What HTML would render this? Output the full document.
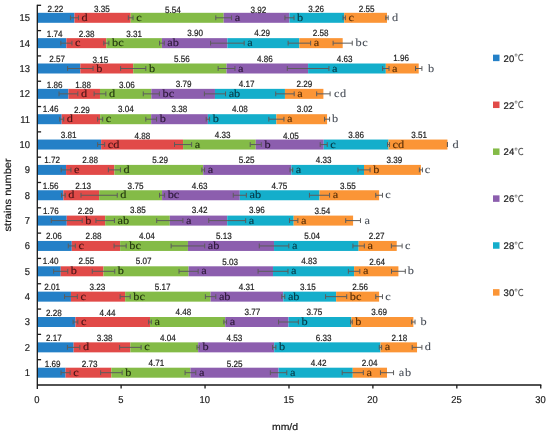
<!DOCTYPE html>
<html lang="en">
<head>
<meta charset="utf-8">
<title>strains growth rate chart</title>
<style>html,body{margin:0;padding:0;background:#fff}svg{display:block;text-rendering:geometricPrecision}</style>
</head>
<body>
<svg width="550" height="436" viewBox="0 0 550 436">
<rect width="550" height="436" fill="#fff"/>
<g>
<rect x="37.20" y="367.70" width="28.37" height="10.00" fill="#2480c7"/>
<rect x="65.57" y="367.70" width="45.82" height="10.00" fill="#e14a48"/>
<rect x="111.39" y="367.70" width="79.06" height="10.00" fill="#84bb47"/>
<rect x="190.45" y="367.70" width="88.12" height="10.00" fill="#8c5eae"/>
<rect x="278.57" y="367.70" width="74.19" height="10.00" fill="#14aecb"/>
<rect x="352.76" y="367.70" width="34.24" height="10.00" fill="#fb9536"/>
<rect x="37.20" y="342.35" width="36.42" height="10.00" fill="#2480c7"/>
<rect x="73.62" y="342.35" width="56.73" height="10.00" fill="#e14a48"/>
<rect x="130.36" y="342.35" width="67.81" height="10.00" fill="#84bb47"/>
<rect x="198.17" y="342.35" width="76.04" height="10.00" fill="#8c5eae"/>
<rect x="274.20" y="342.35" width="106.25" height="10.00" fill="#14aecb"/>
<rect x="380.45" y="342.35" width="36.59" height="10.00" fill="#fb9536"/>
<rect x="37.20" y="317.00" width="38.27" height="10.00" fill="#2480c7"/>
<rect x="75.47" y="317.00" width="74.53" height="10.00" fill="#e14a48"/>
<rect x="150.00" y="317.00" width="75.20" height="10.00" fill="#84bb47"/>
<rect x="225.19" y="317.00" width="63.28" height="10.00" fill="#8c5eae"/>
<rect x="288.47" y="317.00" width="62.94" height="10.00" fill="#14aecb"/>
<rect x="351.42" y="317.00" width="61.94" height="10.00" fill="#fb9536"/>
<rect x="37.20" y="291.65" width="33.74" height="10.00" fill="#2480c7"/>
<rect x="70.94" y="291.65" width="54.22" height="10.00" fill="#e14a48"/>
<rect x="125.15" y="291.65" width="85.44" height="10.00" fill="#84bb47"/>
<rect x="210.59" y="291.65" width="72.68" height="10.00" fill="#8c5eae"/>
<rect x="283.27" y="291.65" width="52.87" height="10.00" fill="#14aecb"/>
<rect x="336.14" y="291.65" width="42.97" height="10.00" fill="#fb9536"/>
<rect x="37.20" y="266.30" width="23.50" height="10.00" fill="#2480c7"/>
<rect x="60.70" y="266.30" width="42.80" height="10.00" fill="#e14a48"/>
<rect x="103.50" y="266.30" width="85.10" height="10.00" fill="#84bb47"/>
<rect x="188.60" y="266.30" width="84.43" height="10.00" fill="#8c5eae"/>
<rect x="273.03" y="266.30" width="81.07" height="10.00" fill="#14aecb"/>
<rect x="354.10" y="266.30" width="44.31" height="10.00" fill="#fb9536"/>
<rect x="37.20" y="240.95" width="34.58" height="10.00" fill="#2480c7"/>
<rect x="71.78" y="240.95" width="48.34" height="10.00" fill="#e14a48"/>
<rect x="120.12" y="240.95" width="67.81" height="10.00" fill="#84bb47"/>
<rect x="187.93" y="240.95" width="86.11" height="10.00" fill="#8c5eae"/>
<rect x="274.04" y="240.95" width="84.60" height="10.00" fill="#14aecb"/>
<rect x="358.63" y="240.95" width="38.10" height="10.00" fill="#fb9536"/>
<rect x="37.20" y="215.60" width="29.54" height="10.00" fill="#2480c7"/>
<rect x="66.74" y="215.60" width="38.44" height="10.00" fill="#e14a48"/>
<rect x="105.18" y="215.60" width="64.62" height="10.00" fill="#84bb47"/>
<rect x="169.80" y="215.60" width="57.40" height="10.00" fill="#8c5eae"/>
<rect x="227.21" y="215.60" width="66.47" height="10.00" fill="#14aecb"/>
<rect x="293.67" y="215.60" width="59.42" height="10.00" fill="#fb9536"/>
<rect x="37.20" y="190.25" width="26.18" height="10.00" fill="#2480c7"/>
<rect x="63.38" y="190.25" width="35.75" height="10.00" fill="#e14a48"/>
<rect x="99.14" y="190.25" width="62.94" height="10.00" fill="#84bb47"/>
<rect x="162.08" y="190.25" width="77.71" height="10.00" fill="#8c5eae"/>
<rect x="239.79" y="190.25" width="79.73" height="10.00" fill="#14aecb"/>
<rect x="319.52" y="190.25" width="59.59" height="10.00" fill="#fb9536"/>
<rect x="37.20" y="164.90" width="28.87" height="10.00" fill="#2480c7"/>
<rect x="66.07" y="164.90" width="48.34" height="10.00" fill="#e14a48"/>
<rect x="114.41" y="164.90" width="88.79" height="10.00" fill="#84bb47"/>
<rect x="203.20" y="164.90" width="88.12" height="10.00" fill="#8c5eae"/>
<rect x="291.32" y="164.90" width="72.68" height="10.00" fill="#14aecb"/>
<rect x="364.00" y="164.90" width="56.90" height="10.00" fill="#fb9536"/>
<rect x="37.20" y="139.55" width="63.95" height="10.00" fill="#2480c7"/>
<rect x="101.15" y="139.55" width="81.91" height="10.00" fill="#e14a48"/>
<rect x="183.06" y="139.55" width="72.68" height="10.00" fill="#84bb47"/>
<rect x="255.74" y="139.55" width="67.98" height="10.00" fill="#8c5eae"/>
<rect x="323.72" y="139.55" width="64.79" height="10.00" fill="#14aecb"/>
<rect x="388.51" y="139.55" width="58.92" height="10.00" fill="#fb9536"/>
<rect x="37.20" y="114.20" width="24.51" height="10.00" fill="#2480c7"/>
<rect x="61.71" y="114.20" width="38.44" height="10.00" fill="#e14a48"/>
<rect x="100.14" y="114.20" width="51.03" height="10.00" fill="#84bb47"/>
<rect x="151.17" y="114.20" width="56.73" height="10.00" fill="#8c5eae"/>
<rect x="207.90" y="114.20" width="68.48" height="10.00" fill="#14aecb"/>
<rect x="276.39" y="114.20" width="50.69" height="10.00" fill="#fb9536"/>
<rect x="37.20" y="88.85" width="31.22" height="10.00" fill="#2480c7"/>
<rect x="68.42" y="88.85" width="31.56" height="10.00" fill="#e14a48"/>
<rect x="99.98" y="88.85" width="51.36" height="10.00" fill="#84bb47"/>
<rect x="151.34" y="88.85" width="63.62" height="10.00" fill="#8c5eae"/>
<rect x="214.95" y="88.85" width="69.99" height="10.00" fill="#14aecb"/>
<rect x="284.95" y="88.85" width="38.44" height="10.00" fill="#fb9536"/>
<rect x="37.20" y="63.50" width="43.14" height="10.00" fill="#2480c7"/>
<rect x="80.34" y="63.50" width="52.87" height="10.00" fill="#e14a48"/>
<rect x="133.21" y="63.50" width="93.32" height="10.00" fill="#84bb47"/>
<rect x="226.53" y="63.50" width="81.58" height="10.00" fill="#8c5eae"/>
<rect x="308.11" y="63.50" width="77.71" height="10.00" fill="#14aecb"/>
<rect x="385.82" y="63.50" width="32.90" height="10.00" fill="#fb9536"/>
<rect x="37.20" y="38.15" width="29.21" height="10.00" fill="#2480c7"/>
<rect x="66.41" y="38.15" width="39.95" height="10.00" fill="#e14a48"/>
<rect x="106.35" y="38.15" width="55.56" height="10.00" fill="#84bb47"/>
<rect x="161.91" y="38.15" width="65.46" height="10.00" fill="#8c5eae"/>
<rect x="227.37" y="38.15" width="72.01" height="10.00" fill="#14aecb"/>
<rect x="299.38" y="38.15" width="43.31" height="10.00" fill="#fb9536"/>
<rect x="37.20" y="12.80" width="37.26" height="10.00" fill="#2480c7"/>
<rect x="74.46" y="12.80" width="56.23" height="10.00" fill="#e14a48"/>
<rect x="130.69" y="12.80" width="92.99" height="10.00" fill="#84bb47"/>
<rect x="223.68" y="12.80" width="65.80" height="10.00" fill="#8c5eae"/>
<rect x="289.48" y="12.80" width="54.72" height="10.00" fill="#14aecb"/>
<rect x="344.20" y="12.80" width="42.80" height="10.00" fill="#fb9536"/>
</g>
<g stroke="#5c5c5c" stroke-width="1" fill="none">
<path d="M61.03 372.70H70.10M61.03 370.30v4.8M70.10 370.30v4.8"/>
<path d="M100.65 372.70H122.13M100.65 370.30v4.8M122.13 370.30v4.8"/>
<path d="M185.08 372.70H195.82M185.08 370.30v4.8M195.82 370.30v4.8"/>
<path d="M270.34 372.70H286.79M270.34 370.30v4.8M286.79 370.30v4.8"/>
<path d="M342.18 372.70H363.33M342.18 370.30v4.8M363.33 370.30v4.8"/>
<path d="M380.45 372.70H393.55M380.45 370.30v4.8M393.55 370.30v4.8"/>
<path d="M67.41 347.35H79.83M67.41 344.95v4.8M79.83 344.95v4.8"/>
<path d="M119.61 347.35H141.10M119.61 344.95v4.8M141.10 344.95v4.8"/>
<path d="M196.99 347.35H199.34M196.99 344.95v4.8M199.34 344.95v4.8"/>
<path d="M272.53 347.35H275.88M272.53 344.95v4.8M275.88 344.95v4.8"/>
<path d="M379.28 347.35H381.63M379.28 344.95v4.8M381.63 344.95v4.8"/>
<path d="M412.18 347.35H421.91M412.18 344.95v4.8M421.91 344.95v4.8"/>
<path d="M73.12 322.00H77.82M73.12 319.60v4.8M77.82 319.60v4.8"/>
<path d="M148.65 322.00H151.34M148.65 319.60v4.8M151.34 319.60v4.8"/>
<path d="M223.85 322.00H226.53M223.85 319.60v4.8M226.53 319.60v4.8"/>
<path d="M278.57 322.00H298.37M278.57 319.60v4.8M298.37 319.60v4.8"/>
<path d="M350.58 322.00H352.25M350.58 319.60v4.8M352.25 319.60v4.8"/>
<path d="M411.67 322.00H415.03M411.67 319.60v4.8M415.03 319.60v4.8"/>
<path d="M64.56 296.65H77.32M64.56 294.25v4.8M77.32 294.25v4.8"/>
<path d="M120.12 296.65H130.19M120.12 294.25v4.8M130.19 294.25v4.8"/>
<path d="M205.39 296.65H215.79M205.39 294.25v4.8M215.79 294.25v4.8"/>
<path d="M281.76 296.65H284.78M281.76 294.25v4.8M284.78 294.25v4.8"/>
<path d="M325.57 296.65H346.72M325.57 294.25v4.8M346.72 294.25v4.8"/>
<path d="M375.75 296.65H382.47M375.75 294.25v4.8M382.47 294.25v4.8"/>
<path d="M53.65 271.30H67.75M53.65 268.90v4.8M67.75 268.90v4.8"/>
<path d="M92.25 271.30H114.75M92.25 268.90v4.8M114.75 268.90v4.8"/>
<path d="M179.03 271.30H198.17M179.03 268.90v4.8M198.17 268.90v4.8"/>
<path d="M258.09 271.30H287.97M258.09 268.90v4.8M287.97 268.90v4.8"/>
<path d="M348.39 271.30H359.81M348.39 268.90v4.8M359.81 268.90v4.8"/>
<path d="M391.53 271.30H405.30M391.53 268.90v4.8M405.30 268.90v4.8"/>
<path d="M68.25 245.95H75.30M68.25 243.55v4.8M75.30 243.55v4.8"/>
<path d="M114.08 245.95H126.16M114.08 243.55v4.8M126.16 243.55v4.8"/>
<path d="M171.14 245.95H204.71M171.14 243.55v4.8M204.71 243.55v4.8"/>
<path d="M259.27 245.95H288.81M259.27 243.55v4.8M288.81 243.55v4.8"/>
<path d="M352.93 245.95H364.34M352.93 243.55v4.8M364.34 243.55v4.8"/>
<path d="M391.36 245.95H402.11M391.36 243.55v4.8M402.11 243.55v4.8"/>
<path d="M51.30 220.60H82.18M51.30 218.20v4.8M82.18 218.20v4.8"/>
<path d="M95.95 220.60H114.41M95.95 218.20v4.8M114.41 218.20v4.8"/>
<path d="M156.71 220.60H182.89M156.71 218.20v4.8M182.89 218.20v4.8"/>
<path d="M208.74 220.60H245.67M208.74 218.20v4.8M245.67 218.20v4.8"/>
<path d="M289.48 220.60H297.87M289.48 218.20v4.8M297.87 218.20v4.8"/>
<path d="M345.71 220.60H360.48M345.71 218.20v4.8M360.48 218.20v4.8"/>
<path d="M61.54 195.25H65.23M61.54 192.85v4.8M65.23 192.85v4.8"/>
<path d="M81.01 195.25H117.26M81.01 192.85v4.8M117.26 192.85v4.8"/>
<path d="M159.56 195.25H164.60M159.56 192.85v4.8M164.60 192.85v4.8"/>
<path d="M233.25 195.25H246.34M233.25 192.85v4.8M246.34 192.85v4.8"/>
<path d="M309.45 195.25H329.59M309.45 192.85v4.8M329.59 192.85v4.8"/>
<path d="M375.75 195.25H382.47M375.75 192.85v4.8M382.47 192.85v4.8"/>
<path d="M61.20 169.90H70.94M61.20 167.50v4.8M70.94 167.50v4.8"/>
<path d="M108.37 169.90H120.45M108.37 167.50v4.8M120.45 167.50v4.8"/>
<path d="M201.86 169.90H204.55M201.86 167.50v4.8M204.55 167.50v4.8"/>
<path d="M289.98 169.90H292.67M289.98 167.50v4.8M292.67 167.50v4.8"/>
<path d="M357.96 169.90H370.05M357.96 167.50v4.8M370.05 167.50v4.8"/>
<path d="M419.39 169.90H422.42M419.39 167.50v4.8M422.42 167.50v4.8"/>
<path d="M97.63 144.55H104.68M97.63 142.15v4.8M104.68 142.15v4.8"/>
<path d="M174.50 144.55H191.62M174.50 142.15v4.8M191.62 142.15v4.8"/>
<path d="M250.20 144.55H261.28M250.20 142.15v4.8M261.28 142.15v4.8"/>
<path d="M320.20 144.55H327.24M320.20 142.15v4.8M327.24 142.15v4.8"/>
<path d="M387.50 144.55H389.52M387.50 142.15v4.8M389.52 142.15v4.8"/>
<path d="M447.43 144.55H447.43M447.43 142.15v4.8M447.43 142.15v4.8"/>
<path d="M59.69 119.20H63.72M59.69 116.80v4.8M63.72 116.80v4.8"/>
<path d="M97.63 119.20H102.66M97.63 116.80v4.8M102.66 116.80v4.8"/>
<path d="M145.80 119.20H156.54M145.80 116.80v4.8M156.54 116.80v4.8"/>
<path d="M206.22 119.20H209.58M206.22 116.80v4.8M209.58 116.80v4.8"/>
<path d="M268.83 119.20H283.94M268.83 116.80v4.8M283.94 116.80v4.8"/>
<path d="M324.56 119.20H329.59M324.56 116.80v4.8M329.59 116.80v4.8"/>
<path d="M59.02 93.85H77.82M59.02 91.45v4.8M77.82 91.45v4.8"/>
<path d="M94.10 93.85H105.85M94.10 91.45v4.8M105.85 91.45v4.8"/>
<path d="M143.28 93.85H159.39M143.28 91.45v4.8M159.39 91.45v4.8"/>
<path d="M204.38 93.85H225.53M204.38 91.45v4.8M225.53 91.45v4.8"/>
<path d="M275.71 93.85H294.18M275.71 91.45v4.8M294.18 91.45v4.8"/>
<path d="M316.67 93.85H330.10M316.67 91.45v4.8M330.10 91.45v4.8"/>
<path d="M67.58 68.50H93.09M67.58 66.10v4.8M93.09 66.10v4.8"/>
<path d="M120.62 68.50H145.80M120.62 66.10v4.8M145.80 66.10v4.8"/>
<path d="M218.14 68.50H234.93M218.14 66.10v4.8M234.93 66.10v4.8"/>
<path d="M287.30 68.50H328.92M287.30 66.10v4.8M328.92 66.10v4.8"/>
<path d="M382.64 68.50H389.01M382.64 66.10v4.8M389.01 66.10v4.8"/>
<path d="M415.53 68.50H421.91M415.53 66.10v4.8M421.91 66.10v4.8"/>
<path d="M60.87 43.15H71.94M60.87 40.75v4.8M71.94 40.75v4.8"/>
<path d="M103.84 43.15H108.87M103.84 40.75v4.8M108.87 40.75v4.8"/>
<path d="M159.56 43.15H164.26M159.56 40.75v4.8M164.26 40.75v4.8"/>
<path d="M210.59 43.15H244.16M210.59 40.75v4.8M244.16 40.75v4.8"/>
<path d="M288.14 43.15H310.63M288.14 40.75v4.8M310.63 40.75v4.8"/>
<path d="M333.12 43.15H352.25M333.12 40.75v4.8M352.25 40.75v4.8"/>
<path d="M70.43 17.80H78.49M70.43 15.40v4.8M78.49 15.40v4.8"/>
<path d="M128.34 17.80H133.04M128.34 15.40v4.8M133.04 15.40v4.8"/>
<path d="M215.79 17.80H231.57M215.79 15.40v4.8M231.57 15.40v4.8"/>
<path d="M284.95 17.80H294.01M284.95 15.40v4.8M294.01 15.40v4.8"/>
<path d="M343.02 17.80H345.37M343.02 15.40v4.8M345.37 15.40v4.8"/>
<path d="M385.82 17.80H388.17M385.82 15.40v4.8M388.17 15.40v4.8"/>
</g>
<g font-family="'Liberation Serif', serif" font-size="11" stroke-width="0.14">
<text transform="translate(73.20 375.70) scale(1.12 1)" fill="#4a1416" stroke="#4a1416">c</text>
<text transform="translate(125.23 375.70) scale(1.12 1)" fill="#24380f" stroke="#24380f">b</text>
<text transform="translate(198.92 375.70) scale(1.12 1)" fill="#2c1838" stroke="#2c1838">a</text>
<text transform="translate(289.89 375.70) scale(1.12 1)" fill="#063a47" stroke="#063a47">a</text>
<text transform="translate(366.43 375.70) scale(1.12 1)" fill="#5a3008" stroke="#5a3008">a</text>
<text transform="translate(398.80 375.70) scale(1.12 1)" fill="#454b55" stroke="#454b55" stroke-width="0.08" letter-spacing="0.6" font-size="11">ab</text>
<text transform="translate(82.93 350.35) scale(1.12 1)" fill="#4a1416" stroke="#4a1416">d</text>
<text transform="translate(144.20 350.35) scale(1.12 1)" fill="#24380f" stroke="#24380f">c</text>
<text transform="translate(202.44 350.35) scale(1.12 1)" fill="#2c1838" stroke="#2c1838">b</text>
<text transform="translate(278.98 350.35) scale(1.12 1)" fill="#063a47" stroke="#063a47">b</text>
<text transform="translate(384.73 350.35) scale(1.12 1)" fill="#5a3008" stroke="#5a3008">a</text>
<text transform="translate(424.70 350.35) scale(1.12 1)" fill="#454b55" stroke="#454b55" stroke-width="0.08" letter-spacing="0.6" font-size="11">d</text>
<text transform="translate(80.92 325.00) scale(1.12 1)" fill="#4a1416" stroke="#4a1416">c</text>
<text transform="translate(154.44 325.00) scale(1.12 1)" fill="#24380f" stroke="#24380f">a</text>
<text transform="translate(229.63 325.00) scale(1.12 1)" fill="#2c1838" stroke="#2c1838">a</text>
<text transform="translate(301.47 325.00) scale(1.12 1)" fill="#063a47" stroke="#063a47">b</text>
<text transform="translate(355.35 325.00) scale(1.12 1)" fill="#5a3008" stroke="#5a3008">b</text>
<text transform="translate(420.40 325.00) scale(1.12 1)" fill="#454b55" stroke="#454b55" stroke-width="0.08" letter-spacing="0.6" font-size="11">b</text>
<text transform="translate(80.42 299.65) scale(1.12 1)" fill="#4a1416" stroke="#4a1416">c</text>
<text transform="translate(133.29 299.65) scale(1.12 1)" fill="#24380f" stroke="#24380f">bc</text>
<text transform="translate(218.89 299.65) scale(1.12 1)" fill="#2c1838" stroke="#2c1838">ab</text>
<text transform="translate(287.88 299.65) scale(1.12 1)" fill="#063a47" stroke="#063a47">ab</text>
<text transform="translate(349.82 299.65) scale(1.12 1)" fill="#5a3008" stroke="#5a3008">bc</text>
<text transform="translate(385.30 299.65) scale(1.12 1)" fill="#454b55" stroke="#454b55" stroke-width="0.08" letter-spacing="0.6" font-size="11">c</text>
<text transform="translate(70.85 274.30) scale(1.12 1)" fill="#4a1416" stroke="#4a1416">b</text>
<text transform="translate(117.85 274.30) scale(1.12 1)" fill="#24380f" stroke="#24380f">b</text>
<text transform="translate(201.27 274.30) scale(1.12 1)" fill="#2c1838" stroke="#2c1838">a</text>
<text transform="translate(291.07 274.30) scale(1.12 1)" fill="#063a47" stroke="#063a47">a</text>
<text transform="translate(362.91 274.30) scale(1.12 1)" fill="#5a3008" stroke="#5a3008">a</text>
<text transform="translate(407.70 274.30) scale(1.12 1)" fill="#454b55" stroke="#454b55" stroke-width="0.08" letter-spacing="0.6" font-size="11">b</text>
<text transform="translate(78.40 248.95) scale(1.12 1)" fill="#4a1416" stroke="#4a1416">c</text>
<text transform="translate(129.26 248.95) scale(1.12 1)" fill="#24380f" stroke="#24380f">bc</text>
<text transform="translate(207.81 248.95) scale(1.12 1)" fill="#2c1838" stroke="#2c1838">ab</text>
<text transform="translate(291.91 248.95) scale(1.12 1)" fill="#063a47" stroke="#063a47">a</text>
<text transform="translate(367.44 248.95) scale(1.12 1)" fill="#5a3008" stroke="#5a3008">a</text>
<text transform="translate(405.10 248.95) scale(1.12 1)" fill="#454b55" stroke="#454b55" stroke-width="0.08" letter-spacing="0.6" font-size="11">c</text>
<text transform="translate(85.28 223.60) scale(1.12 1)" fill="#4a1416" stroke="#4a1416">b</text>
<text transform="translate(117.51 223.60) scale(1.12 1)" fill="#24380f" stroke="#24380f">ab</text>
<text transform="translate(185.99 223.60) scale(1.12 1)" fill="#2c1838" stroke="#2c1838">a</text>
<text transform="translate(248.77 223.60) scale(1.12 1)" fill="#063a47" stroke="#063a47">a</text>
<text transform="translate(300.97 223.60) scale(1.12 1)" fill="#5a3008" stroke="#5a3008">a</text>
<text transform="translate(364.40 223.60) scale(1.12 1)" fill="#454b55" stroke="#454b55" stroke-width="0.08" letter-spacing="0.6" font-size="11">a</text>
<text transform="translate(68.33 198.25) scale(1.12 1)" fill="#4a1416" stroke="#4a1416">d</text>
<text transform="translate(120.36 198.25) scale(1.12 1)" fill="#24380f" stroke="#24380f">d</text>
<text transform="translate(167.70 198.25) scale(1.12 1)" fill="#2c1838" stroke="#2c1838">bc</text>
<text transform="translate(249.44 198.25) scale(1.12 1)" fill="#063a47" stroke="#063a47">ab</text>
<text transform="translate(332.69 198.25) scale(1.12 1)" fill="#5a3008" stroke="#5a3008">a</text>
<text transform="translate(385.30 198.25) scale(1.12 1)" fill="#454b55" stroke="#454b55" stroke-width="0.08" letter-spacing="0.6" font-size="11">c</text>
<text transform="translate(74.04 172.90) scale(1.12 1)" fill="#4a1416" stroke="#4a1416">e</text>
<text transform="translate(123.55 172.90) scale(1.12 1)" fill="#24380f" stroke="#24380f">d</text>
<text transform="translate(207.65 172.90) scale(1.12 1)" fill="#2c1838" stroke="#2c1838">a</text>
<text transform="translate(295.77 172.90) scale(1.12 1)" fill="#063a47" stroke="#063a47">a</text>
<text transform="translate(373.15 172.90) scale(1.12 1)" fill="#5a3008" stroke="#5a3008">b</text>
<text transform="translate(424.70 172.90) scale(1.12 1)" fill="#454b55" stroke="#454b55" stroke-width="0.08" letter-spacing="0.6" font-size="11">c</text>
<text transform="translate(107.78 147.55) scale(1.12 1)" fill="#4a1416" stroke="#4a1416">cd</text>
<text transform="translate(194.72 147.55) scale(1.12 1)" fill="#24380f" stroke="#24380f">a</text>
<text transform="translate(264.38 147.55) scale(1.12 1)" fill="#2c1838" stroke="#2c1838">b</text>
<text transform="translate(330.34 147.55) scale(1.12 1)" fill="#063a47" stroke="#063a47">c</text>
<text transform="translate(392.62 147.55) scale(1.12 1)" fill="#5a3008" stroke="#5a3008">cd</text>
<text transform="translate(452.50 147.55) scale(1.12 1)" fill="#454b55" stroke="#454b55" stroke-width="0.08" letter-spacing="0.6" font-size="11">d</text>
<text transform="translate(66.82 122.20) scale(1.12 1)" fill="#4a1416" stroke="#4a1416">d</text>
<text transform="translate(105.76 122.20) scale(1.12 1)" fill="#24380f" stroke="#24380f">c</text>
<text transform="translate(159.64 122.20) scale(1.12 1)" fill="#2c1838" stroke="#2c1838">b</text>
<text transform="translate(212.68 122.20) scale(1.12 1)" fill="#063a47" stroke="#063a47">b</text>
<text transform="translate(287.04 122.20) scale(1.12 1)" fill="#5a3008" stroke="#5a3008">a</text>
<text transform="translate(332.10 122.20) scale(1.12 1)" fill="#454b55" stroke="#454b55" stroke-width="0.08" letter-spacing="0.6" font-size="11">b</text>
<text transform="translate(80.92 96.85) scale(1.12 1)" fill="#4a1416" stroke="#4a1416">d</text>
<text transform="translate(108.95 96.85) scale(1.12 1)" fill="#24380f" stroke="#24380f">d</text>
<text transform="translate(162.49 96.85) scale(1.12 1)" fill="#2c1838" stroke="#2c1838">bc</text>
<text transform="translate(228.63 96.85) scale(1.12 1)" fill="#063a47" stroke="#063a47">ab</text>
<text transform="translate(297.28 96.85) scale(1.12 1)" fill="#5a3008" stroke="#5a3008">a</text>
<text transform="translate(333.90 96.85) scale(1.12 1)" fill="#454b55" stroke="#454b55" stroke-width="0.08" letter-spacing="0.6" font-size="11">cd</text>
<text transform="translate(96.19 71.50) scale(1.12 1)" fill="#4a1416" stroke="#4a1416">b</text>
<text transform="translate(148.90 71.50) scale(1.12 1)" fill="#24380f" stroke="#24380f">b</text>
<text transform="translate(238.03 71.50) scale(1.12 1)" fill="#2c1838" stroke="#2c1838">a</text>
<text transform="translate(332.02 71.50) scale(1.12 1)" fill="#063a47" stroke="#063a47">a</text>
<text transform="translate(392.11 71.50) scale(1.12 1)" fill="#5a3008" stroke="#5a3008">a</text>
<text transform="translate(428.10 71.50) scale(1.12 1)" fill="#454b55" stroke="#454b55" stroke-width="0.08" letter-spacing="0.6" font-size="11">b</text>
<text transform="translate(75.04 46.15) scale(1.12 1)" fill="#4a1416" stroke="#4a1416">c</text>
<text transform="translate(111.97 46.15) scale(1.12 1)" fill="#24380f" stroke="#24380f">bc</text>
<text transform="translate(167.36 46.15) scale(1.12 1)" fill="#2c1838" stroke="#2c1838">ab</text>
<text transform="translate(247.26 46.15) scale(1.12 1)" fill="#063a47" stroke="#063a47">a</text>
<text transform="translate(313.73 46.15) scale(1.12 1)" fill="#5a3008" stroke="#5a3008">a</text>
<text transform="translate(355.50 46.15) scale(1.12 1)" fill="#454b55" stroke="#454b55" stroke-width="0.08" letter-spacing="0.6" font-size="11">bc</text>
<text transform="translate(81.59 20.80) scale(1.12 1)" fill="#4a1416" stroke="#4a1416">d</text>
<text transform="translate(136.14 20.80) scale(1.12 1)" fill="#24380f" stroke="#24380f">c</text>
<text transform="translate(234.67 20.80) scale(1.12 1)" fill="#2c1838" stroke="#2c1838">a</text>
<text transform="translate(297.11 20.80) scale(1.12 1)" fill="#063a47" stroke="#063a47">b</text>
<text transform="translate(348.47 20.80) scale(1.12 1)" fill="#5a3008" stroke="#5a3008">c</text>
<text transform="translate(391.90 20.80) scale(1.12 1)" fill="#454b55" stroke="#454b55" stroke-width="0.08" letter-spacing="0.6" font-size="11">d</text>
</g>
<g font-family="'Liberation Sans', sans-serif" font-size="9.0" fill="#1c1c1c" stroke="#1c1c1c" stroke-width="0.2" text-anchor="middle">
<text transform="translate(52.53 366.69) scale(0.9 1)">1.69</text>
<text transform="translate(89.69 366.69) scale(0.9 1)">2.73</text>
<text transform="translate(156.38 366.18) scale(0.9 1)">4.71</text>
<text transform="translate(234.53 366.69) scale(0.9 1)">5.25</text>
<text transform="translate(318.65 366.18) scale(0.9 1)">4.42</text>
<text transform="translate(369.69 365.67) scale(0.9 1)">2.04</text>
<text transform="translate(53.80 340.73) scale(0.9 1)">2.17</text>
<text transform="translate(104.71 340.73) scale(0.9 1)">3.38</text>
<text transform="translate(167.84 340.73) scale(0.9 1)">4.04</text>
<text transform="translate(234.27 340.73) scale(0.9 1)">4.53</text>
<text transform="translate(323.62 340.73) scale(0.9 1)">6.33</text>
<text transform="translate(399.47 340.73) scale(0.9 1)">2.18</text>
<text transform="translate(53.80 315.78) scale(0.9 1)">2.28</text>
<text transform="translate(107.51 315.78) scale(0.9 1)">4.44</text>
<text transform="translate(183.36 315.27) scale(0.9 1)">4.48</text>
<text transform="translate(252.47 315.27) scale(0.9 1)">3.77</text>
<text transform="translate(314.33 315.27) scale(0.9 1)">3.75</text>
<text transform="translate(379.11 315.27) scale(0.9 1)">3.69</text>
<text transform="translate(52.02 289.76) scale(0.9 1)">2.01</text>
<text transform="translate(97.33 289.76) scale(0.9 1)">3.23</text>
<text transform="translate(162.75 289.76) scale(0.9 1)">5.17</text>
<text transform="translate(246.75 290.27) scale(0.9 1)">4.31</text>
<text transform="translate(307.84 289.76) scale(0.9 1)">3.15</text>
<text transform="translate(360.02 289.76) scale(0.9 1)">2.56</text>
<text transform="translate(50.75 264.05) scale(0.9 1)">1.40</text>
<text transform="translate(86.38 264.05) scale(0.9 1)">2.55</text>
<text transform="translate(143.65 263.55) scale(0.9 1)">5.07</text>
<text transform="translate(230.20 264.82) scale(0.9 1)">5.03</text>
<text transform="translate(309.11 264.05) scale(0.9 1)">4.83</text>
<text transform="translate(377.07 264.82) scale(0.9 1)">2.64</text>
<text transform="translate(53.80 239.36) scale(0.9 1)">2.06</text>
<text transform="translate(93.51 239.36) scale(0.9 1)">2.88</text>
<text transform="translate(146.84 238.60) scale(0.9 1)">4.04</text>
<text transform="translate(223.84 239.36) scale(0.9 1)">5.13</text>
<text transform="translate(312.16 239.36) scale(0.9 1)">5.04</text>
<text transform="translate(376.56 239.36) scale(0.9 1)">2.27</text>
<text transform="translate(51.00 214.42) scale(0.9 1)">1.76</text>
<text transform="translate(85.75 214.42) scale(0.9 1)">2.29</text>
<text transform="translate(137.93 212.64) scale(0.9 1)">3.85</text>
<text transform="translate(199.65 213.15) scale(0.9 1)">3.42</text>
<text transform="translate(256.93 213.15) scale(0.9 1)">3.96</text>
<text transform="translate(322.47 213.91) scale(0.9 1)">3.54</text>
<text transform="translate(50.62 188.76) scale(0.9 1)">1.56</text>
<text transform="translate(83.20 188.76) scale(0.9 1)">2.13</text>
<text transform="translate(135.51 188.76) scale(0.9 1)">3.75</text>
<text transform="translate(199.65 188.76) scale(0.9 1)">4.63</text>
<text transform="translate(279.33 188.76) scale(0.9 1)">4.75</text>
<text transform="translate(347.93 188.76) scale(0.9 1)">3.55</text>
<text transform="translate(52.02 163.05) scale(0.9 1)">1.72</text>
<text transform="translate(90.20 163.05) scale(0.9 1)">2.88</text>
<text transform="translate(160.20 163.05) scale(0.9 1)">5.29</text>
<text transform="translate(246.75 163.05) scale(0.9 1)">5.25</text>
<text transform="translate(323.62 163.05) scale(0.9 1)">4.33</text>
<text transform="translate(394.38 163.05) scale(0.9 1)">3.39</text>
<text transform="translate(68.56 138.36) scale(0.9 1)">3.81</text>
<text transform="translate(142.38 138.87) scale(0.9 1)">4.88</text>
<text transform="translate(222.56 138.36) scale(0.9 1)">4.33</text>
<text transform="translate(290.78 138.87) scale(0.9 1)">4.05</text>
<text transform="translate(356.20 138.36) scale(0.9 1)">3.86</text>
<text transform="translate(419.20 138.36) scale(0.9 1)">3.51</text>
<text transform="translate(50.62 112.15) scale(0.9 1)">1.46</text>
<text transform="translate(81.80 113.42) scale(0.9 1)">2.29</text>
<text transform="translate(125.84 112.15) scale(0.9 1)">3.04</text>
<text transform="translate(179.42 112.15) scale(0.9 1)">3.38</text>
<text transform="translate(239.87 112.15) scale(0.9 1)">4.08</text>
<text transform="translate(304.53 111.64) scale(0.9 1)">3.02</text>
<text transform="translate(54.56 87.82) scale(0.9 1)">1.86</text>
<text transform="translate(83.20 87.82) scale(0.9 1)">1.88</text>
<text transform="translate(126.98 87.82) scale(0.9 1)">3.06</text>
<text transform="translate(183.62 86.55) scale(0.9 1)">3.79</text>
<text transform="translate(246.75 87.31) scale(0.9 1)">4.17</text>
<text transform="translate(304.40 87.31) scale(0.9 1)">2.29</text>
<text transform="translate(57.11 61.85) scale(0.9 1)">2.57</text>
<text transform="translate(100.38 63.13) scale(0.9 1)">3.15</text>
<text transform="translate(181.84 62.36) scale(0.9 1)">5.56</text>
<text transform="translate(264.82 62.36) scale(0.9 1)">4.86</text>
<text transform="translate(344.75 61.85) scale(0.9 1)">4.63</text>
<text transform="translate(401.25 61.09) scale(0.9 1)">1.96</text>
<text transform="translate(54.56 36.91) scale(0.9 1)">1.74</text>
<text transform="translate(86.64 36.91) scale(0.9 1)">2.38</text>
<text transform="translate(134.11 36.91) scale(0.9 1)">3.31</text>
<text transform="translate(195.20 36.40) scale(0.9 1)">3.90</text>
<text transform="translate(262.02 36.40) scale(0.9 1)">4.29</text>
<text transform="translate(320.56 35.64) scale(0.9 1)">2.58</text>
<text transform="translate(55.45 11.96) scale(0.9 1)">2.22</text>
<text transform="translate(101.91 11.96) scale(0.9 1)">3.35</text>
<text transform="translate(172.93 12.73) scale(0.9 1)">5.54</text>
<text transform="translate(258.45 12.73) scale(0.9 1)">3.92</text>
<text transform="translate(316.11 11.96) scale(0.9 1)">3.26</text>
<text transform="translate(366.64 11.96) scale(0.9 1)">2.55</text>
</g>
<g stroke="#1a1a1a" stroke-width="1.3" fill="none">
<path d="M37.3 4.8V389.0M37.3 385.0H541.35"/>
<path d="M37.3 5.30h3.8"/>
<path d="M37.3 30.61h3.8"/>
<path d="M37.3 55.93h3.8"/>
<path d="M37.3 81.24h3.8"/>
<path d="M37.3 106.55h3.8"/>
<path d="M37.3 131.87h3.8"/>
<path d="M37.3 157.18h3.8"/>
<path d="M37.3 182.49h3.8"/>
<path d="M37.3 207.81h3.8"/>
<path d="M37.3 233.12h3.8"/>
<path d="M37.3 258.43h3.8"/>
<path d="M37.3 283.75h3.8"/>
<path d="M37.3 309.06h3.8"/>
<path d="M37.3 334.37h3.8"/>
<path d="M37.3 359.69h3.8"/>
<path d="M121.12 385.0v3.5"/>
<path d="M205.05 385.0v3.5"/>
<path d="M288.98 385.0v3.5"/>
<path d="M372.90 385.0v3.5"/>
<path d="M456.82 385.0v3.5"/>
<path d="M540.75 385.0v3.5"/>
</g>
<g font-family="'Liberation Sans', sans-serif" font-size="10.0" fill="#1c1c1c" stroke="#1c1c1c" stroke-width="0.2">
<text transform="translate(29.9 376.10) scale(0.94 1)" text-anchor="end">1</text>
<text transform="translate(29.9 350.75) scale(0.94 1)" text-anchor="end">2</text>
<text transform="translate(29.9 325.40) scale(0.94 1)" text-anchor="end">3</text>
<text transform="translate(29.9 300.05) scale(0.94 1)" text-anchor="end">4</text>
<text transform="translate(29.9 274.70) scale(0.94 1)" text-anchor="end">5</text>
<text transform="translate(29.9 249.35) scale(0.94 1)" text-anchor="end">6</text>
<text transform="translate(29.9 224.00) scale(0.94 1)" text-anchor="end">7</text>
<text transform="translate(29.9 198.65) scale(0.94 1)" text-anchor="end">8</text>
<text transform="translate(29.9 173.30) scale(0.94 1)" text-anchor="end">9</text>
<text transform="translate(29.9 147.95) scale(0.94 1)" text-anchor="end">10</text>
<text transform="translate(29.9 122.60) scale(0.94 1)" text-anchor="end">11</text>
<text transform="translate(29.9 97.25) scale(0.94 1)" text-anchor="end">12</text>
<text transform="translate(29.9 71.90) scale(0.94 1)" text-anchor="end">13</text>
<text transform="translate(29.9 46.55) scale(0.94 1)" text-anchor="end">14</text>
<text transform="translate(29.9 21.20) scale(0.94 1)" text-anchor="end">15</text>
<text transform="translate(36.90 402.5) scale(0.94 1)" text-anchor="middle">0</text>
<text transform="translate(120.83 402.5) scale(0.94 1)" text-anchor="middle">5</text>
<text transform="translate(204.75 402.5) scale(0.94 1)" text-anchor="middle">10</text>
<text transform="translate(288.68 402.5) scale(0.94 1)" text-anchor="middle">15</text>
<text transform="translate(372.60 402.5) scale(0.94 1)" text-anchor="middle">20</text>
<text transform="translate(456.52 402.5) scale(0.94 1)" text-anchor="middle">25</text>
<text transform="translate(540.45 402.5) scale(0.94 1)" text-anchor="middle">30</text>
<text transform="translate(285 430.4) scale(1.09 1)" text-anchor="middle" font-size="9.6">mm/d</text>
<text transform="translate(10.8 194.9) rotate(-90) scale(1.12 1)" text-anchor="middle" font-size="9.9">strains number</text>
</g>
<g font-family="'Liberation Sans', 'Noto Sans CJK SC', sans-serif" font-size="9.5" fill="#1c1c1c">
<rect x="493" y="54.65" width="6.5" height="6.5" fill="#2480c7"/>
<text x="503.6" y="61.60" stroke="#1c1c1c" stroke-width="0.2">20<tspan stroke="none" font-family="'Noto Sans CJK SC', sans-serif" font-size="9.6" fill="#555" dy="-0.3">℃</tspan></text>
<rect x="493" y="101.55" width="6.5" height="6.5" fill="#e14a48"/>
<text x="503.6" y="108.50" stroke="#1c1c1c" stroke-width="0.2">22<tspan stroke="none" font-family="'Noto Sans CJK SC', sans-serif" font-size="9.6" fill="#555" dy="-0.3">℃</tspan></text>
<rect x="493" y="148.45" width="6.5" height="6.5" fill="#84bb47"/>
<text x="503.6" y="155.40" stroke="#1c1c1c" stroke-width="0.2">24<tspan stroke="none" font-family="'Noto Sans CJK SC', sans-serif" font-size="9.6" fill="#555" dy="-0.3">℃</tspan></text>
<rect x="493" y="195.35" width="6.5" height="6.5" fill="#8c5eae"/>
<text x="503.6" y="202.30" stroke="#1c1c1c" stroke-width="0.2">26<tspan stroke="none" font-family="'Noto Sans CJK SC', sans-serif" font-size="9.6" fill="#555" dy="-0.3">℃</tspan></text>
<rect x="493" y="242.25" width="6.5" height="6.5" fill="#14aecb"/>
<text x="503.6" y="249.20" stroke="#1c1c1c" stroke-width="0.2">28<tspan stroke="none" font-family="'Noto Sans CJK SC', sans-serif" font-size="9.6" fill="#555" dy="-0.3">℃</tspan></text>
<rect x="493" y="289.15" width="6.5" height="6.5" fill="#fb9536"/>
<text x="503.6" y="296.10" stroke="#1c1c1c" stroke-width="0.2">30<tspan stroke="none" font-family="'Noto Sans CJK SC', sans-serif" font-size="9.6" fill="#555" dy="-0.3">℃</tspan></text>
</g>
</svg>
</body>
</html>
